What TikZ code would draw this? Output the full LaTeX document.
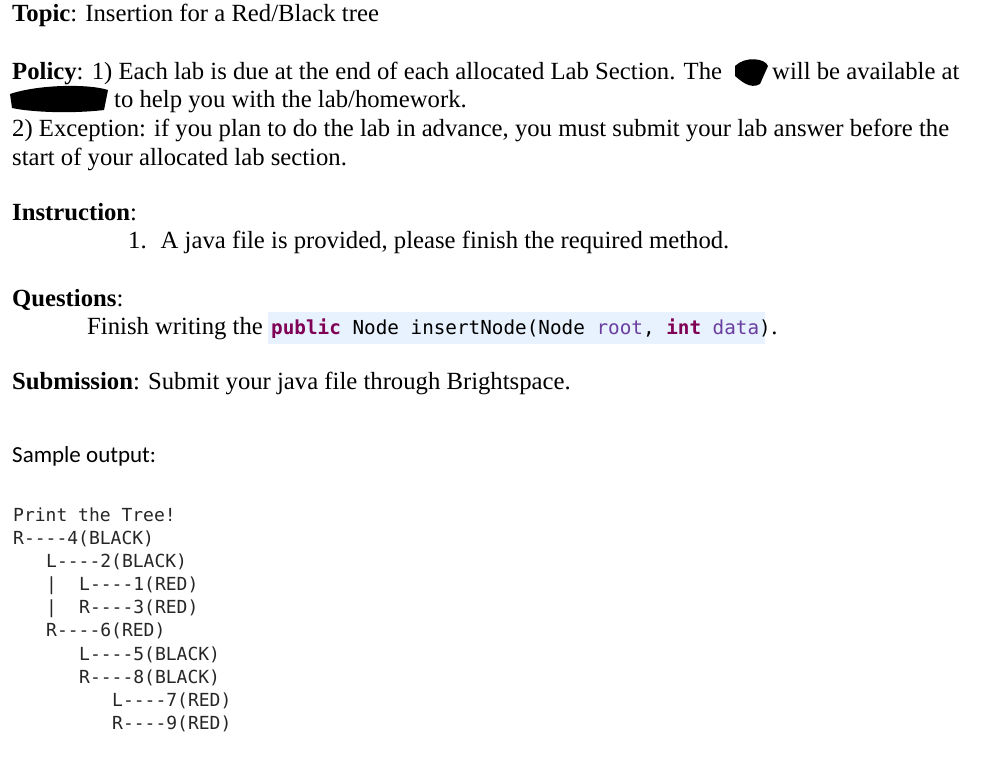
\documentclass[tikz,border=0pt]{standalone}
\usepackage{fontspec}
\setmainfont{Liberation Serif}
\newfontfamily\carl{Carlito}
\newfontfamily\cmono{DejaVu Sans Mono}
\begin{document}
\begin{tikzpicture}[x=1pt,y=-1pt,
  body/.style={anchor=base west,inner sep=0pt,font=\fontsize{24.7}{28}\selectfont},
  samp/.style={anchor=base west,inner sep=0pt,font=\carl\fontsize{23}{26}\selectfont},
  code/.style={anchor=base west,inner sep=0pt,font=\cmono\fontsize{19.3}{22}\selectfont}]
\useasboundingbox[fill=white] (0,0) rectangle (993,757);
\definecolor{kw}{HTML}{7F0055}\definecolor{vr}{HTML}{6A3E9F}\definecolor{hl}{HTML}{E8F2FE}
\node[body] (t) at (12,22) {\textbf{Topic}: Insertion for a Red/Black tree};
\node[body] (p1) at (12,80) {\textbf{Policy}: 1) Each lab is due at the end of each allocated Lab Section. The};
\node[body] (p1b) at (772,80) {will be available at};
\node[body] (p2) at (114,108) {to help you with the lab/homework.};
\node[body] (p3) at (12,137) {2) Exception: if you plan to do the lab in advance, you must submit your lab answer before the};
\node[body] (p4) at (12,165) {start of your allocated lab section.};
\node[body] (i) at (12,220) {\textbf{Instruction}:};
\node[body] (i1) at (128,248) {1.\hspace{14pt}A java file is provided, please finish the required method.};
\node[body] (q) at (12,306) {\textbf{Questions}:};
\node[body] (q1) at (87,334) {Finish writing the};
\fill[hl] (268,312) rectangle (765,344);
\node[code] (c) at (271,334) {\textcolor{kw}{\textbf{public}} Node insertNode(Node \textcolor{vr}{root}, \textcolor{kw}{\textbf{int}} \textcolor{vr}{data})};
\node[body,anchor=base west] (dot) at (c.base east) {.};
\node[body] (s) at (12,389) {\textbf{Submission}: Submit your java file through Brightspace.};
\node[samp] (so) at (12,462) {Sample output:};
\foreach \n/\xx/\yy/\tx in {0/13/521/Print the Tree!,1/13/544/R----4(BLACK),2/46/567/L----2(BLACK),3/46/590/|,4/79/590/L----1(RED),5/46/613/|,6/79/613/R----3(RED),7/46/636/R----6(RED),8/79/660/L----5(BLACK),9/79/683/R----8(BLACK),10/112/706/L----7(RED),11/112/729/R----9(RED)}
  \node[code,font=\cmono\fontsize{18}{21}\selectfont,text=black!85] (o\n) at (\xx,\yy) {\tx};
\fill[black] (735,66) .. controls (745,56) and (765,58) .. (768,66) -- (760,84) .. controls (750,90) and (740,80) .. (735,76) -- cycle;
\fill[black] (10,94) .. controls (40,84) and (90,84) .. (108,90) -- (104,110) .. controls (70,114) and (30,112) .. (12,108) -- cycle;
\end{tikzpicture}
\end{document}
